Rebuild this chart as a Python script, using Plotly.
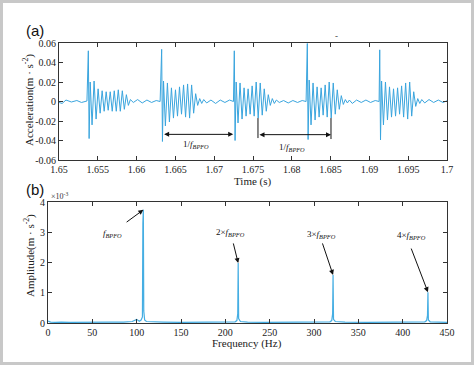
import plotly.graph_objects as go

W, H = 474, 365

# ---------------- data: panel (a) time signal ----------------
# lead-in ripple before first impulse
pre_t = [1.6500, 1.6504, 1.6509, 1.6516, 1.6523, 1.6529, 1.6536]
pre_v = [-0.001, -0.002, 0.0015, -0.0005, 0.001, -0.001, 0.0005]

# impulse onset times (s)
burst_onsets = [1.65378, 1.66323, 1.67259, 1.68200, 1.69133]
# offsets (ms) of the local extrema after each onset
extremum_offsets_ms = [0.00, 0.10, 0.24, 0.48, 0.74, 1.00, 1.26, 1.52, 1.78, 2.04,
                       2.30, 2.56, 2.82, 3.08, 3.34, 3.60, 3.86, 4.12, 4.38, 4.64,
                       4.90, 5.16, 5.42, 5.80, 6.35, 6.95, 7.55, 8.15, 8.75, 9.25]
burst1 = [0.052, -0.038, 0.020, -0.024, 0.021, -0.018, 0.013, -0.012, 0.011, -0.010,
          0.010, -0.009, 0.010, -0.010, 0.011, -0.010, 0.012, -0.010, 0.011, -0.008,
          0.007, -0.004, 0.002, -0.001, 0.002, -0.0015, 0.0015, -0.001, 0.001, 0.0]
burst2 = [0.0535, -0.041, 0.021, -0.025, 0.019, -0.021, 0.014, -0.017, 0.012, -0.015,
          0.015, -0.013, 0.017, -0.016, 0.018, -0.017, 0.017, -0.012, 0.008, -0.004,
          0.003, -0.002, 0.002, -0.0015, 0.0015, -0.002, 0.0015, -0.001, 0.0015, 0.0]
burst3 = [0.052, -0.040, 0.020, -0.022, 0.019, -0.018, 0.014, -0.015, 0.013, -0.013,
          0.016, -0.015, 0.020, -0.017, 0.019, -0.014, 0.013, -0.010, 0.007, -0.004,
          0.003, -0.002, 0.0015, -0.001, 0.001, -0.0015, 0.001, -0.001, 0.001, 0.0]
burst4 = [0.0595, -0.039, 0.022, -0.024, 0.019, -0.019, 0.015, -0.016, 0.014, -0.014,
          0.017, -0.016, 0.020, -0.017, 0.019, -0.013, 0.012, -0.008, 0.006, -0.003,
          0.002, -0.0015, 0.0015, -0.002, 0.0015, -0.001, 0.0015, -0.001, 0.001, 0.0]
burst5 = [0.053, -0.0395, 0.021, -0.024, 0.020, -0.019, 0.015, -0.016, 0.013, -0.015,
          0.014, -0.013, 0.016, -0.016, 0.019, -0.018, 0.020, -0.015, 0.010, -0.005,
          0.003, -0.002, 0.002, -0.0015, 0.002, -0.001, 0.0015, -0.001, 0.001, 0.0]
bursts = [burst1, burst2, burst3, burst4, burst5]

time_ticks = [1.65, 1.655, 1.66, 1.665, 1.67, 1.675, 1.68, 1.685, 1.69, 1.695, 1.7]
time_labels = ["1.65", "1.655", "1.66", "1.665", "1.67", "1.675", "1.68", "1.685", "1.69", "1.695", "1.7"]
acc_ticks = [-0.06, -0.04, -0.02, 0, 0.02, 0.04, 0.06]
acc_labels = ["-0.06", "-0.04", "-0.02", "0", "0.02", "0.04", "0.06"]

# ---------------- data: panel (b) spectrum (x1e-3) ----------------
freq_hz = [0, 1, 3, 8, 15, 25, 40, 55, 70, 85, 95, 100, 103, 105, 106.5, 107, 107.5, 108, 109, 111,
           118, 130, 150, 170, 190, 205, 211, 213, 214, 214.5, 215, 217, 225, 245, 270, 295,
           310, 318, 320, 321, 321.5, 322, 324, 335, 360, 385, 410, 420, 425, 427, 428, 428.5,
           429, 431, 440, 450]
amp_e3 = [0.06, 0.04, 0.03, 0.02, 0.03, 0.02, 0.03, 0.02, 0.03, 0.03, 0.05, 0.12, 0.06, 0.1, 0.2, 3.3, 3.74, 0.4, 0.1, 0.05,
          0.04, 0.03, 0.02, 0.03, 0.02, 0.03, 0.04, 0.08, 0.3, 1.98, 0.15, 0.05, 0.03, 0.02, 0.03, 0.02,
          0.03, 0.04, 0.08, 0.3, 1.59, 0.12, 0.05, 0.03, 0.02, 0.03, 0.02, 0.03, 0.04, 0.08, 0.25, 1.02,
          0.1, 0.04, 0.03, 0.02]
freq_ticks = [0, 50, 100, 150, 200, 250, 300, 350, 400, 450]
amp_ticks = [0, 1, 2, 3, 4]

harmonic_tips = [(107.5, 3.74), (214.5, 1.98), (321.5, 1.59), (428.5, 1.02)]
harmonic_tails = [(87, 3.3), (208.6, 2.68), (309, 2.68), (409, 2.51)]
harmonic_texts = ["<i>f</i><sub><i>BPFO</i></sub>",
                  "2×<i>f</i><sub><i>BPFO</i></sub>",
                  "3×<i>f</i><sub><i>BPFO</i></sub>",
                  "4×<i>f</i><sub><i>BPFO</i></sub>"]
harmonic_text_pos = [(73, 2.97), (206, 3.0), (308, 2.94), (410, 2.88)]

# build time signal from read extrema
t_all = list(pre_t)
v_all = list(pre_v)
for onset, vals in zip(burst_onsets, bursts):
    for off, v in zip(extremum_offsets_ms, vals):
        t_all.append(onset + off / 1000.0)
        v_all.append(v)

SERIF = "Liberation Serif"
px = lambda x: x / W
py = lambda y: 1 - y / H

fig = go.Figure()
fig.add_trace(go.Scatter(x=t_all, y=v_all, mode="lines",
                         line=dict(color="#3aa5de", width=1), xaxis="x", yaxis="y",
                         showlegend=False, hoverinfo="skip"))
fig.add_trace(go.Scatter(x=freq_hz, y=amp_e3, mode="lines",
                         line=dict(color="#45aee3", width=1.2), xaxis="x2", yaxis="y2",
                         showlegend=False, hoverinfo="skip"))

axis_common = dict(showline=True, linecolor="#333", linewidth=1, mirror="ticks",
                   ticks="inside", ticklen=4, tickcolor="#333", showgrid=False,
                   zeroline=False, automargin=False,
                   tickfont=dict(family=SERIF, size=10, color="#222"))

fig.update_layout(
    template="none",
    width=W, height=H, margin=dict(l=0, r=0, t=0, b=0, pad=0, autoexpand=False),
    paper_bgcolor="white", plot_bgcolor="white",
    xaxis=dict(domain=[px(59), px(447)], anchor="y", range=[1.65, 1.7],
               tickvals=time_ticks, ticktext=time_labels, **axis_common),
    yaxis=dict(domain=[py(160), py(43)], anchor="x", range=[-0.06, 0.06],
               tickvals=acc_ticks, ticktext=acc_labels, **axis_common),
    xaxis2=dict(domain=[px(48), px(447)], anchor="y2", range=[0, 450],
                tickvals=freq_ticks, **axis_common),
    yaxis2=dict(domain=[py(323), py(202)], anchor="x2", range=[0, 4],
                tickvals=amp_ticks, **axis_common),
)

ann = []


def paper_text(text, x, y, size, family=SERIF, angle=0, color="#222", xanchor="center"):
    ann.append(dict(text=text, x=px(x), y=py(y), xref="paper", yref="paper",
                    xanchor=xanchor, yanchor="middle", showarrow=False, textangle=angle,
                    font=dict(family=family, size=size, color=color)))


# panel labels
paper_text("(a)", 35, 30, 15, family="Liberation Sans", color="#111")
paper_text("(b)", 35, 189, 15, family="Liberation Sans", color="#111")
# axis titles
paper_text("Time (s)", 253, 182, 11)
paper_text("Frequency (Hz)", 247, 343, 11)
paper_text("Acceleration(m · s<sup>-2</sup>)", 28, 100, 11, angle=-90)
paper_text("Amplitude(m · s<sup>-2</sup>)", 29, 256, 11, angle=-90)
paper_text("×10<sup>-3</sup>", 49, 196, 8, color="#333", xanchor="left")
paper_text("-", 336, 36, 9, color="#333")

# panel (a) period arrows
for (t0, t1, yv), (tx, ty) in zip([(1.66335, 1.67245, -0.0337), (1.67564, 1.68505, -0.034)],
                                  [(1.66766, -0.0446), (1.68003, -0.0467)]):
    ann.append(dict(x=t1, y=yv, ax=t0, ay=yv, xref="x", yref="y", axref="x", ayref="y",
                    text="", showarrow=True, arrowhead=2, startarrowhead=2,
                    arrowside="end+start", arrowsize=1, startarrowsize=1,
                    arrowwidth=1, arrowcolor="#111"))
    ann.append(dict(x=tx, y=ty, xref="x", yref="y", showarrow=False,
                    text="1/<i>f</i><sub><i>BPFO</i></sub>",
                    font=dict(family=SERIF, size=9, color="#111")))

# panel (b) harmonic arrows
for tip, tail, txt, tp in zip(harmonic_tips, harmonic_tails, harmonic_texts, harmonic_text_pos):
    ann.append(dict(x=tip[0], y=tip[1], ax=tail[0], ay=tail[1], xref="x2", yref="y2",
                    axref="x2", ayref="y2", text="", showarrow=True, arrowhead=2,
                    arrowsize=1, arrowwidth=1, arrowcolor="#111"))
    ann.append(dict(x=tp[0], y=tp[1], xref="x2", yref="y2", showarrow=False, text=txt,
                    font=dict(family=SERIF, size=9, color="#111")))

fig.update_layout(annotations=ann)

shapes = [
    dict(type="line", xref="x", yref="y", x0=1.67564, x1=1.67564, y0=-0.017, y1=-0.0375,
         line=dict(color="#111", width=1)),
    dict(type="line", xref="x", yref="y", x0=1.68505, x1=1.68505, y0=-0.017, y1=-0.0385,
         line=dict(color="#111", width=1)),
    dict(type="rect", xref="paper", yref="paper", x0=0, x1=1, y0=0, y1=1,
         line=dict(color="#c8c8c8", width=6), fillcolor="rgba(0,0,0,0)", layer="above"),
]
fig.update_layout(shapes=shapes)

fig.write_html("out.html", config={"displayModeBar": False},
               post_script="document.body.style.margin='0';document.body.style.overflow='hidden';")
